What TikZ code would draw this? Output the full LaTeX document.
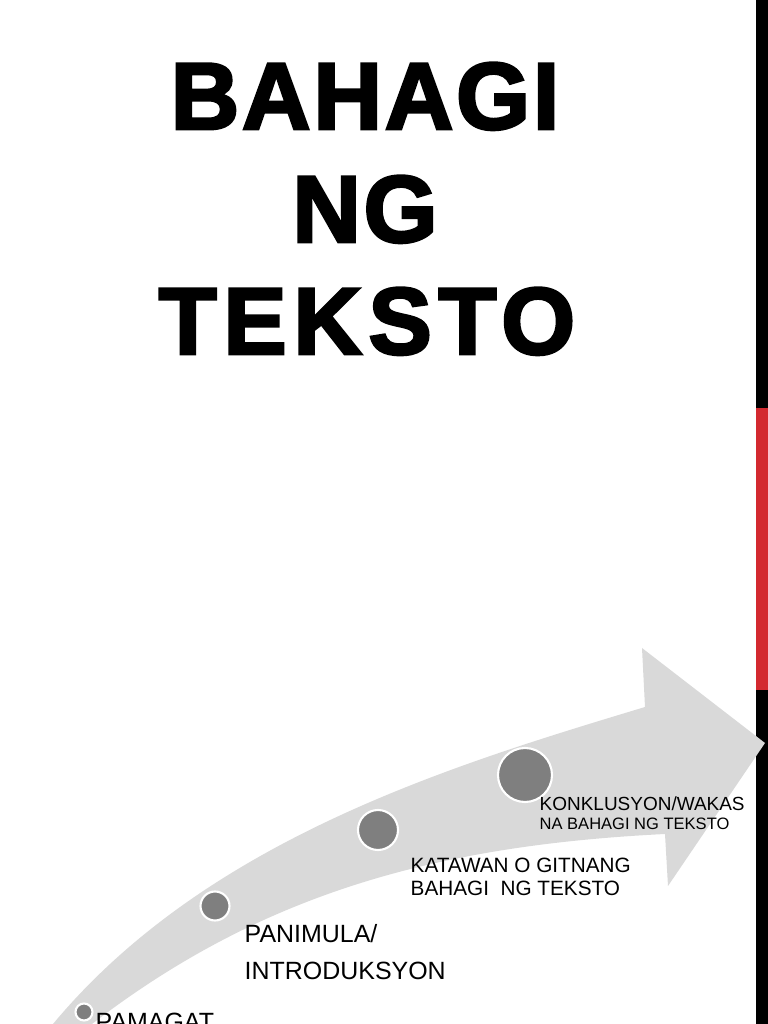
\documentclass[tikz,border=0pt]{standalone}
\usepackage{fontspec}
\setmainfont{Liberation Sans}
\newfontfamily\titlefont[LetterSpace=3,BoldFeatures={FakeBold=3}]{Liberation Sans}
\newfontfamily\titlewidefont[LetterSpace=7,BoldFeatures={FakeBold=3}]{Liberation Sans}
\definecolor{bandgray}{RGB}{217,217,217}
\definecolor{dotgray}{RGB}{127,127,127}
\definecolor{barred}{RGB}{211,41,47}
\begin{document}
\begin{tikzpicture}[
  dot/.style={circle,fill=dotgray,draw=white,line width=0.6pt,inner sep=0pt},
  lbl/.style={anchor=base west,inner sep=0pt,align=left},
  ttl/.style={anchor=base,inner sep=0pt,font=\titlefont\bfseries\fontsize{27}{32}\selectfont}]
\useasboundingbox (0,0) rectangle (7.68,10.24);
\clip (0,0) rectangle (7.68,10.24);
% side bar
\fill[black] (7.56,0) rectangle (7.68,10.24);
\fill[barred] (7.56,3.34) rectangle (7.68,6.16);

% title
\node[ttl] (titleA) at (3.65,8.95) {BAHAGI};
\node[ttl] (titleB) at (3.65,7.82) {NG};
\node[ttl,font=\titlewidefont\bfseries\fontsize{27}{32}\selectfont] (titleC) at (3.67,6.70) {TEKSTO};

% arrow
\fill[bandgray] (0.53,0) .. controls (2.07,1.85) and (4.53,2.59) .. (6.45,3.17)
  -- (6.42,3.76) -- (7.65,2.81) -- (6.68,1.38) -- (6.65,1.90)
  .. controls (4.45,1.79) and (2.66,1.34) .. (0.92,0) -- cycle;

\node[dot,minimum size=0.17cm] (pamagat) at (0.84,0.12) {};
\node[dot,minimum size=0.29cm] (panimula) at (2.15,1.18) {};
\node[dot,minimum size=0.40cm] (katawan) at (3.78,1.94) {};
\node[dot,minimum size=0.54cm] (konklusyon) at (5.25,2.49) {};

\node[lbl,font=\fontsize{7.1}{7.1}\selectfont] (pamagatlbl) at (0.95,-0.07) {PAMAGAT};
\node[lbl,font=\fontsize{7.1}{10.8}\selectfont] (panimulalbl) at (2.44,0.44) {PANIMULA/\\INTRODUKSYON};
\node[lbl,font=\fontsize{5.9}{6.3}\selectfont] (katawanlbl) at (4.10,1.29) {KATAWAN O GITNANG\\BAHAGI\ \ NG TEKSTO};
\node[lbl,font=\fontsize{5.4}{5.4}\selectfont] (konklusyonlbl) at (5.39,2.13) {KONKLUSYON/WAKAS};
\node[lbl,font=\fontsize{4.7}{4.7}\selectfont] (wakaslbl) at (5.39,1.94) {NA BAHAGI NG TEKSTO};
\end{tikzpicture}
\end{document}
